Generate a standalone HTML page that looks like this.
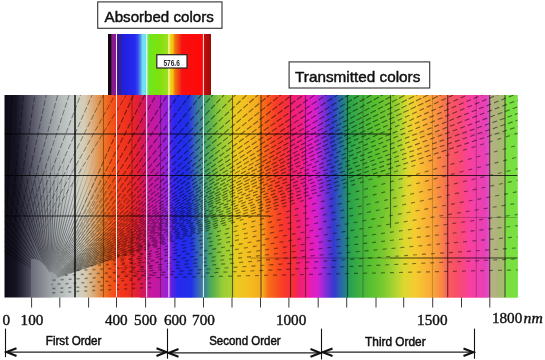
<!DOCTYPE html>
<html><head><meta charset="utf-8"><title>Interference colors</title>
<style>html,body{margin:0;padding:0;background:#fff;}body{width:545px;height:360px;position:relative;overflow:hidden;}</style>
</head><body>
<svg width="545" height="360" viewBox="0 0 545 360" style="position:absolute;left:0;top:0"><defs><linearGradient id="g" gradientUnits="userSpaceOnUse" x1="4.5" y1="0" x2="517.7" y2="0"><stop offset="0.0000" stop-color="#0c0b14"/><stop offset="0.0224" stop-color="#141320"/><stop offset="0.0302" stop-color="#232232"/><stop offset="0.0419" stop-color="#3a3a4c"/><stop offset="0.0594" stop-color="#606070"/><stop offset="0.0789" stop-color="#868a92"/><stop offset="0.0984" stop-color="#a4aaac"/><stop offset="0.1120" stop-color="#b6bcbc"/><stop offset="0.1276" stop-color="#c4cac8"/><stop offset="0.1393" stop-color="#ccd0c8"/><stop offset="0.1549" stop-color="#d6ccb4"/><stop offset="0.1666" stop-color="#dab890"/><stop offset="0.1783" stop-color="#dea064"/><stop offset="0.1861" stop-color="#e28c44"/><stop offset="0.1939" stop-color="#ec7828"/><stop offset="0.2056" stop-color="#f25a1c"/><stop offset="0.2173" stop-color="#f44818"/><stop offset="0.2192" stop-color="#f23c1e"/><stop offset="0.2406" stop-color="#f0301e"/><stop offset="0.2562" stop-color="#e42032"/><stop offset="0.2679" stop-color="#d41852"/><stop offset="0.2757" stop-color="#cc1868"/><stop offset="0.2777" stop-color="#c8189a"/><stop offset="0.2991" stop-color="#c01aa8"/><stop offset="0.3049" stop-color="#a820c8"/><stop offset="0.3186" stop-color="#9020d8"/><stop offset="0.3205" stop-color="#6020e0"/><stop offset="0.3322" stop-color="#2828f0"/><stop offset="0.3576" stop-color="#2030e8"/><stop offset="0.3654" stop-color="#3050d0"/><stop offset="0.3770" stop-color="#3c7c9c"/><stop offset="0.3868" stop-color="#3c8c88"/><stop offset="0.3907" stop-color="#44a068"/><stop offset="0.4043" stop-color="#62b448"/><stop offset="0.4199" stop-color="#94cc38"/><stop offset="0.4394" stop-color="#b0d030"/><stop offset="0.4452" stop-color="#e8cc20"/><stop offset="0.4686" stop-color="#f4c020"/><stop offset="0.4940" stop-color="#f4a820"/><stop offset="0.5018" stop-color="#f87018"/><stop offset="0.5134" stop-color="#f85a1c"/><stop offset="0.5290" stop-color="#f83c28"/><stop offset="0.5524" stop-color="#f42c40"/><stop offset="0.5583" stop-color="#f02070"/><stop offset="0.5816" stop-color="#f02088"/><stop offset="0.5875" stop-color="#e81cb4"/><stop offset="0.6050" stop-color="#d820cc"/><stop offset="0.6148" stop-color="#a828d8"/><stop offset="0.6265" stop-color="#6c30d4"/><stop offset="0.6382" stop-color="#3438d0"/><stop offset="0.6498" stop-color="#2c60b0"/><stop offset="0.6635" stop-color="#208880"/><stop offset="0.6693" stop-color="#28a050"/><stop offset="0.6927" stop-color="#40b040"/><stop offset="0.7219" stop-color="#58c030"/><stop offset="0.7512" stop-color="#78c830"/><stop offset="0.7707" stop-color="#a8d430"/><stop offset="0.7843" stop-color="#dcd830"/><stop offset="0.7999" stop-color="#f4cc30"/><stop offset="0.8135" stop-color="#f8b834"/><stop offset="0.8330" stop-color="#f8a038"/><stop offset="0.8486" stop-color="#f88448"/><stop offset="0.8622" stop-color="#f87050"/><stop offset="0.8642" stop-color="#f85c5c"/><stop offset="0.8837" stop-color="#f84c6c"/><stop offset="0.9071" stop-color="#f840a0"/><stop offset="0.9363" stop-color="#e840b8"/><stop offset="0.9441" stop-color="#e050c8"/><stop offset="0.9460" stop-color="#b8b088"/><stop offset="0.9616" stop-color="#acb478"/><stop offset="0.9753" stop-color="#a0c068"/><stop offset="0.9772" stop-color="#78e040"/><stop offset="1.0000" stop-color="#78e040"/></linearGradient><linearGradient id="s" gradientUnits="userSpaceOnUse" x1="108" y1="0" x2="211" y2="0"><stop offset="0.0000" stop-color="#100810"/><stop offset="0.0243" stop-color="#100810"/><stop offset="0.0291" stop-color="#501040"/><stop offset="0.0437" stop-color="#8a1890"/><stop offset="0.0777" stop-color="#8a1890"/><stop offset="0.0874" stop-color="#401890"/><stop offset="0.1262" stop-color="#3020a0"/><stop offset="0.1456" stop-color="#2020e0"/><stop offset="0.2621" stop-color="#2828f0"/><stop offset="0.2913" stop-color="#3050f0"/><stop offset="0.3204" stop-color="#60a0f0"/><stop offset="0.3350" stop-color="#70e0f0"/><stop offset="0.3689" stop-color="#70e0f0"/><stop offset="0.3786" stop-color="#80e8a0"/><stop offset="0.4029" stop-color="#70e818"/><stop offset="0.5049" stop-color="#80e010"/><stop offset="0.5825" stop-color="#a0e020"/><stop offset="0.5971" stop-color="#f0e010"/><stop offset="0.6311" stop-color="#f0c010"/><stop offset="0.6505" stop-color="#f07010"/><stop offset="0.6893" stop-color="#f04010"/><stop offset="0.7184" stop-color="#f81010"/><stop offset="0.9223" stop-color="#ff0808"/><stop offset="0.9320" stop-color="#c01010"/><stop offset="1.0000" stop-color="#a00808"/></linearGradient><clipPath id="cc"><rect x="4.5" y="95" width="513.2" height="202.5"/></clipPath></defs><rect x="108" y="34" width="103" height="61.5" fill="url(#s)"/><rect x="4.5" y="95" width="513.2" height="202.5" fill="url(#g)"/><defs><linearGradient id="g2" gradientUnits="userSpaceOnUse" x1="4.5" y1="0" x2="517.7" y2="0"><stop offset="0.0000" stop-color="#0c0b14"/><stop offset="0.0224" stop-color="#141320"/><stop offset="0.0302" stop-color="#232232"/><stop offset="0.0419" stop-color="#3a3a4c"/><stop offset="0.0594" stop-color="#606070"/><stop offset="0.0789" stop-color="#868a92"/><stop offset="0.0984" stop-color="#a4aaac"/><stop offset="0.1120" stop-color="#b6bcbc"/><stop offset="0.1276" stop-color="#c4cac8"/><stop offset="0.1393" stop-color="#ccd0c8"/><stop offset="0.1549" stop-color="#d6ccb4"/><stop offset="0.1666" stop-color="#dab890"/><stop offset="0.1783" stop-color="#dea064"/><stop offset="0.1861" stop-color="#e28c44"/><stop offset="0.1939" stop-color="#ec7828"/><stop offset="0.2056" stop-color="#f25a1c"/><stop offset="0.2173" stop-color="#f44818"/><stop offset="0.2192" stop-color="#f23c1e"/><stop offset="0.2406" stop-color="#f0301e"/><stop offset="0.2562" stop-color="#e42032"/><stop offset="0.2683" stop-color="#d41852"/><stop offset="0.2769" stop-color="#cc1868"/><stop offset="0.2790" stop-color="#c8189a"/><stop offset="0.3026" stop-color="#c01aa8"/><stop offset="0.3089" stop-color="#a820c8"/><stop offset="0.3233" stop-color="#9020d8"/><stop offset="0.3253" stop-color="#6020e0"/><stop offset="0.3376" stop-color="#2828f0"/><stop offset="0.3642" stop-color="#2030e8"/><stop offset="0.3724" stop-color="#3050d0"/><stop offset="0.3846" stop-color="#3c7c9c"/><stop offset="0.3938" stop-color="#3c8c88"/><stop offset="0.3972" stop-color="#44a068"/><stop offset="0.4090" stop-color="#62b448"/><stop offset="0.4238" stop-color="#94cc38"/><stop offset="0.4433" stop-color="#b0d030"/><stop offset="0.4491" stop-color="#e8cc20"/><stop offset="0.4725" stop-color="#f4c020"/><stop offset="0.5038" stop-color="#f4a820"/><stop offset="0.5134" stop-color="#f87018"/><stop offset="0.5260" stop-color="#f85a1c"/><stop offset="0.5427" stop-color="#f83c28"/><stop offset="0.5677" stop-color="#f42c40"/><stop offset="0.5733" stop-color="#f02070"/><stop offset="0.5905" stop-color="#f02088"/><stop offset="0.5950" stop-color="#e81cb4"/><stop offset="0.6102" stop-color="#d820cc"/><stop offset="0.6187" stop-color="#a828d8"/><stop offset="0.6304" stop-color="#6c30d4"/><stop offset="0.6420" stop-color="#3438d0"/><stop offset="0.6537" stop-color="#2c60b0"/><stop offset="0.6674" stop-color="#208880"/><stop offset="0.6724" stop-color="#28a050"/><stop offset="0.6927" stop-color="#40b040"/><stop offset="0.7141" stop-color="#58c030"/><stop offset="0.7369" stop-color="#78c830"/><stop offset="0.7590" stop-color="#a8d430"/><stop offset="0.7781" stop-color="#dcd830"/><stop offset="0.7999" stop-color="#f4cc30"/><stop offset="0.8190" stop-color="#f8b834"/><stop offset="0.8390" stop-color="#f8a038"/><stop offset="0.8525" stop-color="#f88448"/><stop offset="0.8642" stop-color="#f85c5c"/><stop offset="0.8837" stop-color="#f84c6c"/><stop offset="0.9071" stop-color="#f840a0"/><stop offset="0.9363" stop-color="#e840b8"/><stop offset="0.9441" stop-color="#e050c8"/><stop offset="0.9460" stop-color="#b8b088"/><stop offset="0.9616" stop-color="#acb478"/><stop offset="0.9753" stop-color="#a0c068"/><stop offset="0.9772" stop-color="#78e040"/><stop offset="1.0000" stop-color="#78e040"/></linearGradient><linearGradient id="vm" gradientUnits="userSpaceOnUse" x1="0" y1="165" x2="0" y2="255"><stop offset="0" stop-color="#000"/><stop offset="1" stop-color="#fff"/></linearGradient><mask id="om" maskUnits="userSpaceOnUse" x="0" y="0" width="545" height="360"><rect x="140" y="160" width="380" height="140" fill="url(#vm)"/></mask></defs><rect x="140" y="160" width="377.7" height="137.5" fill="url(#g2)" mask="url(#om)"/><radialGradient id="rg" gradientUnits="userSpaceOnUse" cx="50" cy="280" r="300"><stop offset="0" stop-color="#000"/><stop offset="0.067" stop-color="#222"/><stop offset="0.2" stop-color="#666"/><stop offset="0.4" stop-color="#ccc"/><stop offset="0.55" stop-color="#fff"/></radialGradient><mask id="lm" maskUnits="userSpaceOnUse" x="0" y="0" width="545" height="360"><rect x="0" y="0" width="545" height="360" fill="url(#rg)"/></mask><radialGradient id="rg2" gradientUnits="userSpaceOnUse" cx="50" cy="280" r="200"><stop offset="0" stop-color="#000"/><stop offset="0.25" stop-color="#000"/><stop offset="0.5" stop-color="#fff"/></radialGradient><mask id="lm2" maskUnits="userSpaceOnUse" x="0" y="0" width="545" height="360"><rect x="0" y="0" width="545" height="360" fill="url(#rg2)"/></mask><g clip-path="url(#cc)"><g stroke="#000" stroke-opacity="0.45" stroke-width="1.15" fill="none"><linearGradient id="bm" gradientUnits="userSpaceOnUse" x1="0" y1="190" x2="0" y2="265"><stop offset="0" stop-color="#fff"/><stop offset="1" stop-color="#000"/></linearGradient><mask id="bmask" maskUnits="userSpaceOnUse" x="0" y="0" width="545" height="360"><rect x="0" y="0" width="545" height="360" fill="url(#bm)"/></mask><g mask="url(#bmask)"><path d="M3.0 297.5L12.0 94.0" stroke-dasharray="6 2" stroke-dashoffset="1.7" stroke-width="0.9"/><path d="M3.0 297.5L23.5 94.0" stroke-dasharray="6 2" stroke-dashoffset="3.8" stroke-width="0.9"/><path d="M3.0 297.5L35.0 94.0" stroke-dasharray="6 2" stroke-dashoffset="2.6" stroke-width="0.9"/><path d="M3.0 297.5L46.5 94.0" stroke-dasharray="6 2" stroke-dashoffset="4.2" stroke-width="0.9"/><path d="M3.0 297.5L58.0 94.0" stroke-dasharray="6 2" stroke-dashoffset="4.4" stroke-width="0.9"/><path d="M3.0 297.5L69.5 94.0" stroke-dasharray="6 2" stroke-dashoffset="0.5" stroke-width="0.9"/><path d="M3.0 297.5L81.0 94.0" stroke-dasharray="6 2" stroke-dashoffset="0.1" stroke-width="0.9"/><path d="M3.0 297.5L92.5 94.0" stroke-dasharray="6 2" stroke-dashoffset="5.9" stroke-width="0.9"/><path d="M3.0 297.5L104.0 94.0" stroke-dasharray="6 2" stroke-dashoffset="1.8" stroke-width="0.9"/><path d="M3.0 297.5L115.5 94.0" stroke-dasharray="6 2" stroke-dashoffset="1.6" stroke-width="0.9"/><path d="M3.0 297.5L127.0 94.0" stroke-dasharray="6 2" stroke-dashoffset="7.0" stroke-width="0.9"/></g><radialGradient id="fg" gradientUnits="userSpaceOnUse" cx="50" cy="280" r="130"><stop offset="0" stop-color="#000"/><stop offset="0.08" stop-color="#444"/><stop offset="0.25" stop-color="#fff"/><stop offset="0.5" stop-color="#fff"/><stop offset="1" stop-color="#000"/></radialGradient><mask id="fm" maskUnits="userSpaceOnUse" x="0" y="0" width="545" height="360"><rect x="0" y="0" width="545" height="360" fill="url(#fg)"/></mask><path mask="url(#fm)" d="M57.6 277.4L172.9 237.7M57.5 277.2L171.7 234.3M57.4 277.0L170.4 230.9M57.3 276.8L168.9 227.5M57.2 276.6L167.4 224.2M57.1 276.4L165.8 221.0M57.0 276.2L164.1 217.8M56.9 276.0L162.4 214.6M56.8 275.8L160.5 211.5M56.7 275.6L158.5 208.4M56.6 275.4L156.5 205.4M56.4 275.2L154.4 202.5M56.3 275.1L152.2 199.6M56.1 274.9L149.9 196.8M56.0 274.7L147.5 194.0M55.8 274.5L144.1 190.3M55.6 274.3L140.6 186.8M55.4 274.1L137.0 183.4M55.1 273.9L133.2 180.1M54.9 273.7L129.3 177.0M54.6 273.5L125.3 174.0M54.4 273.3L121.2 171.2M54.1 273.1L117.0 168.6M53.9 273.0L112.6 166.1M53.6 272.8L108.2 163.8M53.3 272.7L103.7 161.6M53.0 272.6L99.1 159.6M52.7 272.5L94.5 157.8M52.4 272.4L89.7 156.2M52.2 272.3L85.0 154.8M51.9 272.2L80.1 153.5M51.6 272.2L75.3 152.5M51.3 272.1L70.3 151.6M50.9 272.1L65.4 150.9M50.6 272.0L60.4 150.4M50.3 272.0L55.4 150.1M50.0 272.0L50.5 150.0M49.7 272.0L45.5 150.1M49.4 272.0L40.5 150.3M49.1 272.0L35.5 150.8M48.8 272.1L30.6 151.5M48.5 272.1L25.6 152.3M48.2 272.2L20.8 153.3M47.9 272.3L15.9 154.5M47.6 272.4L11.1 155.9M47.3 272.5L6.4 157.5M47.0 272.6L1.7 159.3M46.5 272.8L-6.6 163.0M46.0 273.1L-14.6 167.2M45.5 273.4L-22.3 172.0M45.1 273.7L-29.7 177.3M44.7 274.0L-36.6 183.1M44.3 274.4L-43.2 189.4M43.9 274.8L-49.3 196.1M43.5 275.3L-54.9 203.2M43.2 275.7L-60.0 210.7" stroke-opacity="0.55" stroke-width="0.7"/><g mask="url(#lm)" stroke-width="1.1" stroke-opacity="0.5"><path d="M50 280L338.1 -358.0" stroke-dasharray="6 2" stroke-dashoffset="3.3"/><path d="M50 280L369.3 -343.0" stroke-dasharray="6 2" stroke-dashoffset="5.9"/><path d="M50 280L398.2 -327.2" stroke-dasharray="6 2" stroke-dashoffset="3.3"/><path d="M50 280L425.0 -311.1" stroke-dasharray="6 2" stroke-dashoffset="4.5"/><path d="M50 280L449.7 -294.6" stroke-dasharray="6 2" stroke-dashoffset="1.1"/><path d="M50 280L472.4 -278.2" stroke-dasharray="6 2" stroke-dashoffset="4.4"/><path d="M50 280L493.2 -261.8" stroke-dasharray="6 2" stroke-dashoffset="6.1"/><path d="M50 280L512.3 -245.7" stroke-dasharray="6 2" stroke-dashoffset="3.7"/><path d="M50 280L529.6 -229.9" stroke-dasharray="6 2" stroke-dashoffset="5.2"/><path d="M50 280L545.5 -214.5" stroke-dasharray="6 2" stroke-dashoffset="4.7"/><path d="M50 280L559.9 -199.6" stroke-dasharray="6 2" stroke-dashoffset="0.4"/><path d="M50 280L573.1 -185.2" stroke-dasharray="6 2" stroke-dashoffset="5.3"/><path d="M50 280L585.1 -171.3" stroke-dasharray="6 2" stroke-dashoffset="4.1"/><path d="M50 280L596.1 -157.9" stroke-dasharray="6 2" stroke-dashoffset="2.1"/><path d="M50 280L606.2 -145.1" stroke-dasharray="6 2" stroke-dashoffset="0.2"/><path d="M50 280L615.3 -132.8" stroke-dasharray="6 2" stroke-dashoffset="6.1"/><path d="M50 280L623.8 -121.0" stroke-dasharray="6 2" stroke-dashoffset="3.3"/><path d="M50 280L631.5 -109.7" stroke-dasharray="6 2" stroke-dashoffset="5.0"/><path d="M50 280L638.6 -99.0" stroke-dasharray="6 2" stroke-dashoffset="6.2"/><path d="M50 280L645.1 -88.6" stroke-dasharray="6 2" stroke-dashoffset="5.0"/><path d="M50 280L651.1 -78.8" stroke-dasharray="6 2" stroke-dashoffset="6.4"/><path d="M50 280L656.6 -69.3" stroke-dasharray="6 2" stroke-dashoffset="2.8"/><path d="M50 280L661.7 -60.3" stroke-dasharray="6 2" stroke-dashoffset="5.6"/><path d="M50 280L666.4 -51.7" stroke-dasharray="6 2" stroke-dashoffset="3.1"/><path d="M50 280L670.8 -43.4" stroke-dasharray="6 2" stroke-dashoffset="6.5"/><path d="M50 280L674.9 -35.5" stroke-dasharray="6 2" stroke-dashoffset="6.2"/><path d="M50 280L678.8 -27.7" stroke-dasharray="6 2" stroke-dashoffset="0.7"/><path d="M50 280L682.6 -19.7" stroke-dasharray="6 2" stroke-dashoffset="1.0"/><path d="M50 280L686.3 -11.8" stroke-dasharray="5 3" stroke-dashoffset="1.5"/><path d="M50 280L689.9 -3.7" stroke-dasharray="5 3" stroke-dashoffset="6.8"/><path d="M50 280L693.4 4.3" stroke-dasharray="5 3" stroke-dashoffset="3.1"/><path d="M50 280L696.8 12.4" stroke-dasharray="5 3" stroke-dashoffset="4.4"/><path d="M50 280L700.2 20.6" stroke-dasharray="5 3" stroke-dashoffset="2.1"/><path d="M50 280L703.4 28.8" stroke-dasharray="5 3" stroke-dashoffset="3.6"/><path d="M50 280L706.5 37.0" stroke-dasharray="5 3" stroke-dashoffset="2.7"/><path d="M50 280L709.5 45.3" stroke-dasharray="5 3" stroke-dashoffset="2.5"/><path d="M50 280L712.4 53.6" stroke-dasharray="5 3" stroke-dashoffset="4.1"/><path d="M50 280L715.2 61.9" stroke-dasharray="5 3" stroke-dashoffset="4.1"/></g><g mask="url(#lm2)"><path d="M50 280L717.9 70.3" stroke-dasharray="4 5" stroke-dashoffset="8.1"/><path d="M50 280L722.6 86.1" stroke-dasharray="4 5" stroke-dashoffset="6.1"/><path d="M50 280L727.0 102.0" stroke-dasharray="4 5" stroke-dashoffset="8.4"/><path d="M50 280L731.0 118.0" stroke-dasharray="4 5" stroke-dashoffset="7.7"/><path d="M50 280L734.6 134.1" stroke-dasharray="4 5" stroke-dashoffset="8.9"/><path d="M50 280L737.9 150.2" stroke-dasharray="4 5" stroke-dashoffset="6.0"/><path d="M50 280L740.7 166.5" stroke-dasharray="4 5" stroke-dashoffset="1.5"/><path d="M50 280L743.2 182.8" stroke-dasharray="4 5" stroke-dashoffset="7.7"/><path d="M50 280L745.3 199.2" stroke-dasharray="4 5" stroke-dashoffset="8.7"/><path d="M50 280L747.0 215.6" stroke-dasharray="4 5" stroke-dashoffset="8.1"/><path d="M50 280L748.4 232.0" stroke-dasharray="4 5" stroke-dashoffset="5.1"/><path d="M50 280L749.3 248.5" stroke-dasharray="4 5" stroke-dashoffset="6.4"/><path d="M50 280L749.8 264.9" stroke-dasharray="4 5" stroke-dashoffset="1.9"/></g></g><clipPath id="wc"><polygon points="50,297.5 50,280 117,254 152,241 152,297.5"/></clipPath><g clip-path="url(#wc)" stroke="#000" stroke-opacity="0.38" stroke-width="1.5" stroke-dasharray="3 5" fill="none"><path d="M45 247.0L155 241.0" stroke-dashoffset="2.6"/><path d="M45 251.2L155 245.2" stroke-dashoffset="1.2"/><path d="M45 255.4L155 249.4" stroke-dashoffset="5.2"/><path d="M45 259.6L155 253.6" stroke-dashoffset="0.6"/><path d="M45 263.8L155 257.8" stroke-dashoffset="4.3"/><path d="M45 268.0L155 262.0" stroke-dashoffset="2.9"/><path d="M45 272.2L155 266.2" stroke-dashoffset="0.5"/><path d="M45 276.4L155 270.4" stroke-dashoffset="4.1"/><path d="M45 280.6L155 274.6" stroke-dashoffset="0.3"/><path d="M45 284.8L155 278.8" stroke-dashoffset="3.5"/><path d="M45 289.0L155 283.0" stroke-dashoffset="0.6"/><path d="M45 293.2L155 287.2" stroke-dashoffset="0.7"/></g><linearGradient id="bl" x1="0" y1="0" x2="1" y2="0"><stop offset="0" stop-color="#6a6c78"/><stop offset="0.4" stop-color="#80828c"/><stop offset="1" stop-color="#a2a6aa"/></linearGradient><path d="M31 297.5L31 259C39 258 46 264 51 276L52 297.5Z" fill="url(#bl)"/><line x1="75" y1="95" x2="75" y2="297.5" stroke="#000" stroke-opacity="0.75" stroke-width="1.8"/><line x1="103.5" y1="95" x2="103.5" y2="297.5" stroke="#000" stroke-opacity="0.35" stroke-width="1.1"/><line x1="132" y1="95" x2="132" y2="297.5" stroke="#000" stroke-opacity="0.3" stroke-width="1.1"/><line x1="160.5" y1="95" x2="160.5" y2="297.5" stroke="#000" stroke-opacity="0.3" stroke-width="1.1"/><line x1="232.5" y1="95" x2="232.5" y2="297.5" stroke="#000" stroke-opacity="0.55" stroke-width="1.1"/><line x1="261" y1="95" x2="261" y2="297.5" stroke="#000" stroke-opacity="0.6" stroke-width="1.1"/><line x1="290.5" y1="95" x2="290.5" y2="297.5" stroke="#000" stroke-opacity="0.55" stroke-width="1.1"/><line x1="305.5" y1="95" x2="305.5" y2="297.5" stroke="#000" stroke-opacity="0.4" stroke-width="1.1"/><line x1="347.5" y1="95" x2="347.5" y2="297.5" stroke="#000" stroke-opacity="0.5" stroke-width="1.1"/><line x1="363" y1="95" x2="363" y2="297.5" stroke="#000" stroke-opacity="0.25" stroke-width="1.1"/><line x1="390.5" y1="95" x2="390.5" y2="228" stroke="#000" stroke-opacity="0.5" stroke-width="1.1"/><line x1="432.5" y1="95" x2="432.5" y2="297.5" stroke="#000" stroke-opacity="0.18" stroke-width="1.1"/><line x1="447.7" y1="95" x2="447.7" y2="297.5" stroke="#000" stroke-opacity="0.6" stroke-width="1.1"/><line x1="476.3" y1="95" x2="476.3" y2="297.5" stroke="#000" stroke-opacity="0.22" stroke-width="1.1"/><line x1="489.7" y1="95" x2="489.7" y2="297.5" stroke="#000" stroke-opacity="0.65" stroke-width="1.1"/><line x1="505" y1="95" x2="505" y2="297.5" stroke="#000" stroke-opacity="0.6" stroke-width="1.1"/><line x1="4.5" y1="134" x2="391" y2="134" stroke="#000" stroke-opacity="0.8" stroke-width="1.2"/><line x1="391" y1="134" x2="517.7" y2="134" stroke="#000" stroke-opacity="0.08" stroke-width="1.2"/><line x1="440" y1="217.5" x2="517.7" y2="217.5" stroke="#000" stroke-opacity="0.22" stroke-width="1.2"/><line x1="4.5" y1="175.5" x2="517.7" y2="175.5" stroke="#000" stroke-opacity="0.75" stroke-width="1.2"/><line x1="4.5" y1="216" x2="270" y2="216" stroke="#000" stroke-opacity="0.75" stroke-width="1.2"/><line x1="250" y1="258" x2="390" y2="258" stroke="#000" stroke-opacity="0.3" stroke-width="1.2"/><line x1="390" y1="258" x2="517.7" y2="258" stroke="#000" stroke-opacity="0.7" stroke-width="1.2"/></g><line x1="116.5" y1="34" x2="116.5" y2="297.5" stroke="#fff" stroke-opacity="0.9" stroke-width="1"/><line x1="146.7" y1="34" x2="146.7" y2="297.5" stroke="#fff" stroke-opacity="0.9" stroke-width="1"/><line x1="168.9" y1="34" x2="168.9" y2="297.5" stroke="#fff" stroke-opacity="0.9" stroke-width="1"/><line x1="203.4" y1="34" x2="203.4" y2="297.5" stroke="#fff" stroke-opacity="0.9" stroke-width="1"/><line x1="31.6" y1="297.5" x2="31.6" y2="307.5" stroke="#3a3a3a" stroke-width="1"/><line x1="59.8" y1="297.5" x2="59.8" y2="307.5" stroke="#3a3a3a" stroke-width="1"/><line x1="88.6" y1="297.5" x2="88.6" y2="307.5" stroke="#3a3a3a" stroke-width="1"/><line x1="116.5" y1="297.5" x2="116.5" y2="307.5" stroke="#3a3a3a" stroke-width="1"/><line x1="145.6" y1="297.5" x2="145.6" y2="307.5" stroke="#3a3a3a" stroke-width="1"/><line x1="174.9" y1="297.5" x2="174.9" y2="307.5" stroke="#3a3a3a" stroke-width="1"/><line x1="203.5" y1="297.5" x2="203.5" y2="307.5" stroke="#3a3a3a" stroke-width="1"/><line x1="232" y1="297.5" x2="232" y2="307.5" stroke="#3a3a3a" stroke-width="1"/><line x1="260.5" y1="297.5" x2="260.5" y2="307.5" stroke="#3a3a3a" stroke-width="1"/><line x1="288.9" y1="297.5" x2="288.9" y2="307.5" stroke="#3a3a3a" stroke-width="1"/><line x1="318.2" y1="297.5" x2="318.2" y2="307.5" stroke="#3a3a3a" stroke-width="1"/><line x1="346.7" y1="297.5" x2="346.7" y2="307.5" stroke="#3a3a3a" stroke-width="1"/><line x1="376" y1="297.5" x2="376" y2="307.5" stroke="#3a3a3a" stroke-width="1"/><line x1="403.7" y1="297.5" x2="403.7" y2="307.5" stroke="#3a3a3a" stroke-width="1"/><line x1="432.7" y1="297.5" x2="432.7" y2="307.5" stroke="#3a3a3a" stroke-width="1"/><line x1="461.5" y1="297.5" x2="461.5" y2="307.5" stroke="#3a3a3a" stroke-width="1"/><line x1="489.8" y1="297.5" x2="489.8" y2="307.5" stroke="#3a3a3a" stroke-width="1"/><line x1="5.5" y1="328.6" x2="5.5" y2="357.2" stroke="#111" stroke-width="1.1"/><line x1="167.5" y1="328.6" x2="167.5" y2="358.7" stroke="#111" stroke-width="1.1"/><line x1="321.5" y1="328.6" x2="321.5" y2="359.5" stroke="#111" stroke-width="1.1"/><line x1="474.5" y1="328.6" x2="474.5" y2="358.8" stroke="#111" stroke-width="1.1"/><line x1="5.5" y1="352.1" x2="167.5" y2="352.1" stroke="#222" stroke-width="1.3"/><path d="M16.5 348.3L6.7 352.1L16.5 355.90000000000003" stroke="#111" stroke-width="2.1" fill="none"/><path d="M156.5 348.3L166.3 352.1L156.5 355.90000000000003" stroke="#111" stroke-width="2.1" fill="none"/><line x1="167.5" y1="352.9" x2="321.5" y2="352.9" stroke="#222" stroke-width="1.3"/><path d="M178.5 349.09999999999997L168.7 352.9L178.5 356.7" stroke="#111" stroke-width="2.1" fill="none"/><path d="M310.5 349.09999999999997L320.3 352.9L310.5 356.7" stroke="#111" stroke-width="2.1" fill="none"/><line x1="321.5" y1="352.2" x2="474.5" y2="352.2" stroke="#222" stroke-width="1.3"/><path d="M332.5 348.4L322.7 352.2L332.5 356.0" stroke="#111" stroke-width="2.1" fill="none"/><path d="M463.5 348.4L473.3 352.2L463.5 356.0" stroke="#111" stroke-width="2.1" fill="none"/><rect x="97.7" y="1.9" width="124.3" height="26.4" fill="#fff" stroke="#3a3a3a" stroke-width="1.15"/><rect x="289.1" y="61.9" width="140.6" height="26.1" fill="#fff" stroke="#3a3a3a" stroke-width="1.15"/><rect x="156.8" y="54.7" width="30.2" height="13.3" fill="#fff" stroke="#222" stroke-width="1.2"/><text x="104.6" y="21.6" font-family="Liberation Sans, sans-serif" font-size="14.6" textLength="109.2" lengthAdjust="spacingAndGlyphs" fill="#111" stroke="#111" stroke-width="0.45">Absorbed colors</text><text x="295.1" y="81.7" font-family="Liberation Sans, sans-serif" font-size="14.8" textLength="125.2" lengthAdjust="spacingAndGlyphs" fill="#111" stroke="#111" stroke-width="0.45">Transmitted colors</text><text x="163.4" y="65.8" font-family="Liberation Sans, sans-serif" font-size="8.6" font-weight="bold" textLength="16.4" lengthAdjust="spacingAndGlyphs" fill="#2a2e34">576.6</text><text x="6.2" y="325" font-family="Liberation Serif, serif" font-size="15.2" text-anchor="middle" fill="#111" stroke="#111" stroke-width="0.4">0</text><text x="32" y="325" font-family="Liberation Serif, serif" font-size="15.2" text-anchor="middle" fill="#111" stroke="#111" stroke-width="0.4">100</text><text x="116.3" y="325" font-family="Liberation Serif, serif" font-size="15.2" text-anchor="middle" fill="#111" stroke="#111" stroke-width="0.4">400</text><text x="145.5" y="325" font-family="Liberation Serif, serif" font-size="15.2" text-anchor="middle" fill="#111" stroke="#111" stroke-width="0.4">500</text><text x="175.3" y="325" font-family="Liberation Serif, serif" font-size="15.2" text-anchor="middle" fill="#111" stroke="#111" stroke-width="0.4">600</text><text x="203.5" y="325" font-family="Liberation Serif, serif" font-size="15.2" text-anchor="middle" fill="#111" stroke="#111" stroke-width="0.4">700</text><text x="291.1" y="325" font-family="Liberation Serif, serif" font-size="15.2" text-anchor="middle" fill="#111" stroke="#111" stroke-width="0.4">1000</text><text x="432.3" y="325" font-family="Liberation Serif, serif" font-size="15.2" text-anchor="middle" fill="#111" stroke="#111" stroke-width="0.4">1500</text><text x="507.1" y="322.8" font-family="Liberation Serif, serif" font-size="15.2" text-anchor="middle" fill="#111" stroke="#111" stroke-width="0.4">1800</text><text x="523.6" y="322.8" font-family="Liberation Serif, serif" font-size="15.2" textLength="19.2" lengthAdjust="spacingAndGlyphs" font-style="italic" fill="#111" stroke="#111" stroke-width="0.4">nm</text><text x="45.8" y="345.4" font-family="Liberation Sans, sans-serif" font-size="12.4" textLength="55.6" lengthAdjust="spacingAndGlyphs" fill="#111" stroke="#111" stroke-width="0.5">First Order</text><text x="209.2" y="345.2" font-family="Liberation Sans, sans-serif" font-size="12.4" textLength="71.5" lengthAdjust="spacingAndGlyphs" fill="#111" stroke="#111" stroke-width="0.5">Second Order</text><text x="365.1" y="346.3" font-family="Liberation Sans, sans-serif" font-size="12.4" textLength="60.5" lengthAdjust="spacingAndGlyphs" fill="#111" stroke="#111" stroke-width="0.5">Third Order</text></svg>
</body></html>
